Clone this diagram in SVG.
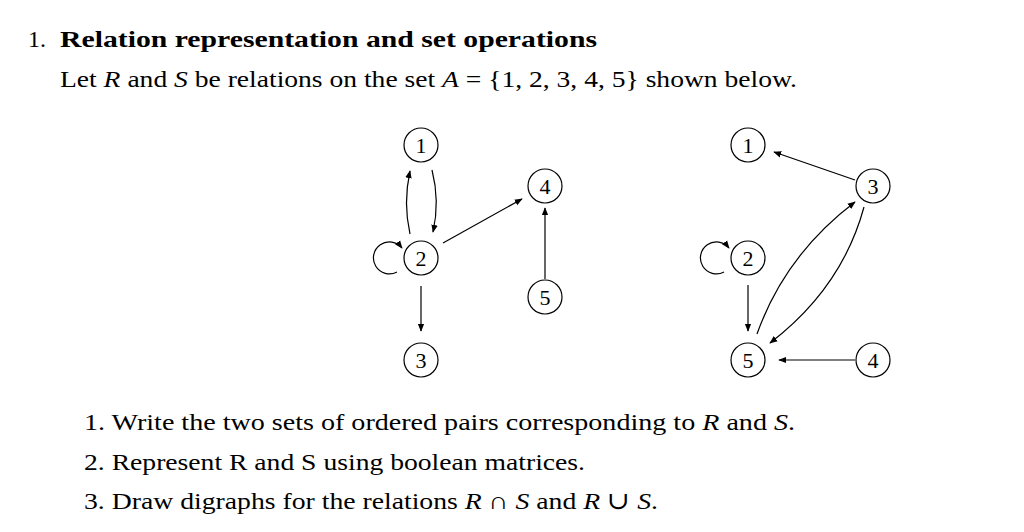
<svg xmlns="http://www.w3.org/2000/svg" width="1024" height="532" viewBox="0 0 1024 532">
<style>
text{font-family:"Liberation Serif","DejaVu Serif",serif;fill:#000}
.t{font-size:24px}
.n circle{fill:#fff;stroke:#000;stroke-width:1.2}
.n text{font-size:22px;text-anchor:middle}
#edges path{fill:none;stroke:#000;stroke-width:1.2;marker-end:url(#a)}
</style>
<defs><marker id="a" viewBox="0 0 10 10" refX="9" refY="5" markerWidth="8" markerHeight="8" markerUnits="userSpaceOnUse" orient="auto"><path d="M0,1 L10,5 L0,9 z" fill="#000"/></marker></defs>
<rect width="1024" height="532" fill="#fff"/>
<text class="t" x="28" y="47">1.</text>
<text class="t" x="60" y="47" font-weight="bold" textLength="537" lengthAdjust="spacingAndGlyphs">Relation representation and set operations</text>
<text class="t" x="60" y="87" textLength="737" lengthAdjust="spacingAndGlyphs">Let <tspan font-style="italic">R</tspan> and <tspan font-style="italic">S</tspan> be relations on the set <tspan font-style="italic">A</tspan> = {1, 2, 3, 4, 5} shown below.</text>
<text class="t" x="84" y="430" textLength="711" lengthAdjust="spacingAndGlyphs">1.  Write the two sets of ordered pairs corresponding to <tspan font-style="italic">R</tspan> and <tspan font-style="italic">S</tspan>.</text>
<text class="t" x="84" y="470" textLength="501" lengthAdjust="spacingAndGlyphs">2.  Represent R and S using boolean matrices.</text>
<text class="t" x="84" y="509" textLength="574" lengthAdjust="spacingAndGlyphs">3.  Draw digraphs for the relations <tspan font-style="italic">R</tspan> ∩ <tspan font-style="italic">S</tspan> and <tspan font-style="italic">R</tspan> ∪ <tspan font-style="italic">S</tspan>.</text>
<g id="edges">
<path d="M410,234 Q403,203 410,171"/>
<path d="M432,170 Q440,201 433,232"/>
<path d="M397,272 A16,16 0 1 1 402,248"/>
<path d="M443,243 L522,199"/>
<path d="M545,279 L545,208"/>
<path d="M421,286 L421,331"/>
<path d="M855,180 L774,152"/>
<path d="M757,334 Q785,255 855,202"/>
<path d="M864,207 Q842,288 770,343"/>
<path d="M748,285 L748,331"/>
<path d="M855,360 L779,360"/>
<path d="M724,272 A16,16 0 1 1 729,248"/>
</g>
<g id="L1" class="n"><circle cx="421" cy="145" r="17"/><text x="421" y="153">1</text></g>
<g id="L2" class="n"><circle cx="421" cy="258" r="17"/><text x="421" y="266">2</text></g>
<g id="L3" class="n"><circle cx="421" cy="360" r="17"/><text x="421" y="368">3</text></g>
<g id="L4" class="n"><circle cx="545" cy="186" r="17"/><text x="545" y="194">4</text></g>
<g id="L5" class="n"><circle cx="545" cy="297" r="17"/><text x="545" y="305">5</text></g>
<g id="R1" class="n"><circle cx="748" cy="145" r="17"/><text x="748" y="153">1</text></g>
<g id="R2" class="n"><circle cx="748" cy="258" r="17"/><text x="748" y="266">2</text></g>
<g id="R3" class="n"><circle cx="873" cy="186" r="17"/><text x="873" y="194">3</text></g>
<g id="R5" class="n"><circle cx="748" cy="360" r="17"/><text x="748" y="368">5</text></g>
<g id="R4" class="n"><circle cx="873" cy="360" r="17"/><text x="873" y="368">4</text></g>
</svg>
